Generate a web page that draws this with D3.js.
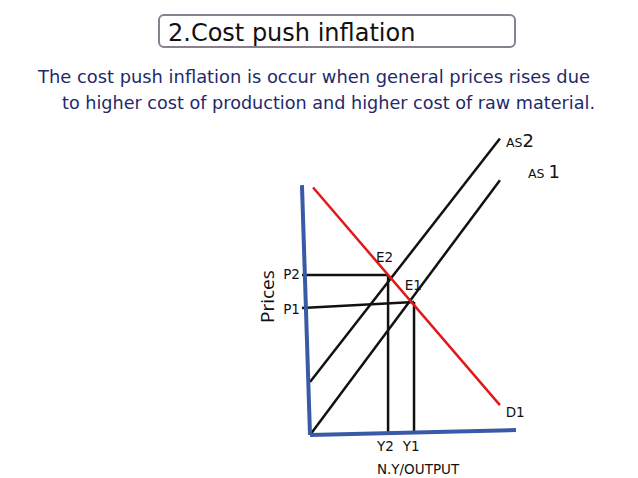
<!DOCTYPE html>
<html><head><meta charset="utf-8">
<script src="https://cdn.jsdelivr.net/npm/d3@7"></script>
<style>body{margin:0;background:#fff}</style></head>
<body><svg id="c" width="638" height="478"></svg>
<script>
const yAxisLine=[[-3.9,102],[0,0]];
const xAxisLine=[[0,0],[100,2]];
const as1=[[0,0],[92.2,104]];
const as2=[[0,21.6],[92.2,121]];
const d1=[[1.5,101],[92.2,12.2]];
const p2Line=[[-3.9,65.3],[37.9,65.3]];
const p1Line=[[-3.9,51.8],[50.5,54.3]];
const y2Line=[[37.9,65.3],[37.9,1]];
const y1Line=[[50.5,54.3],[50.5,1]];
const labels=[
 {t:"E2",x:32,y:70.5},{t:"E1",x:46,y:59},{t:"P2",x:-13,y:63.5},{t:"P1",x:-13,y:49.5},
 {t:"Y2",x:32.5,y:-6.5},{t:"Y1",x:45,y:-6.5},{t:"D1",x:95,y:7.5},{t:"N.Y/OUTPUT",x:32.5,y:-16}];
const svg=d3.select("#c");
const x=d3.scaleLinear().domain([0,100]).range([310,516]);
const y=d3.scaleLinear().domain([0,100]).range([435,190]);
const line=d3.line().x(d=>x(d[0])).y(d=>y(d[1]));
svg.append("rect").attr("x",159).attr("y",15).attr("width",356).attr("height",32).attr("rx",5)
 .attr("fill","#fff").attr("stroke","#8a7f8f").attr("stroke-width",2);
svg.append("text").attr("x",168).attr("y",41).attr("font-family","Verdana, DejaVu Sans, sans-serif").attr("font-size",24).attr("fill","#111").text("2.Cost push inflation");
const tf="Verdana, DejaVu Sans, sans-serif";
svg.append("text").attr("x",38).attr("y",83).attr("font-family",tf).attr("font-size",17.5).attr("textLength",552).attr("lengthAdjust","spacingAndGlyphs").attr("fill","#1f2a6b").text("The cost push inflation is occur when general prices rises due");
svg.append("text").attr("x",62).attr("y",109).attr("font-family",tf).attr("font-size",17.5).attr("textLength",533).attr("lengthAdjust","spacingAndGlyphs").attr("fill","#1f2a6b").text("to higher cost of production and higher cost of raw material.");
[as1,as2,p2Line,p1Line,y2Line,y1Line].forEach(d=>svg.append("path").attr("d",line(d)).attr("stroke","#111").attr("stroke-width",2.5).attr("fill","none"));
svg.append("path").attr("d",line(d1)).attr("stroke","#e01818").attr("stroke-width",2.5).attr("fill","none");
[yAxisLine,xAxisLine].forEach(d=>svg.append("path").attr("d",line(d)).attr("stroke","#3a5aa8").attr("stroke-width",4).attr("fill","none"));
labels.forEach(l=>svg.append("text").attr("x",x(l.x)).attr("y",y(l.y)).attr("font-family","Verdana, DejaVu Sans, sans-serif").attr("font-size",13.5).attr("fill","#111").text(l.t));
const as2t=svg.append("text").attr("x",506).attr("y",147).attr("font-family","Verdana, DejaVu Sans, sans-serif").attr("fill","#111");
as2t.append("tspan").attr("font-size",12.5).text("AS");as2t.append("tspan").attr("font-size",18).text("2");
const as1t=svg.append("text").attr("x",528).attr("y",178).attr("font-family","Verdana, DejaVu Sans, sans-serif").attr("fill","#111");
as1t.append("tspan").attr("font-size",12.5).text("AS ");as1t.append("tspan").attr("font-size",18).text("1");
svg.append("text").attr("transform","translate(274,323) rotate(-90)").attr("font-family","Open Sans, sans-serif").attr("font-size",19).attr("fill","#111").text("Prices");
</script></body></html>
